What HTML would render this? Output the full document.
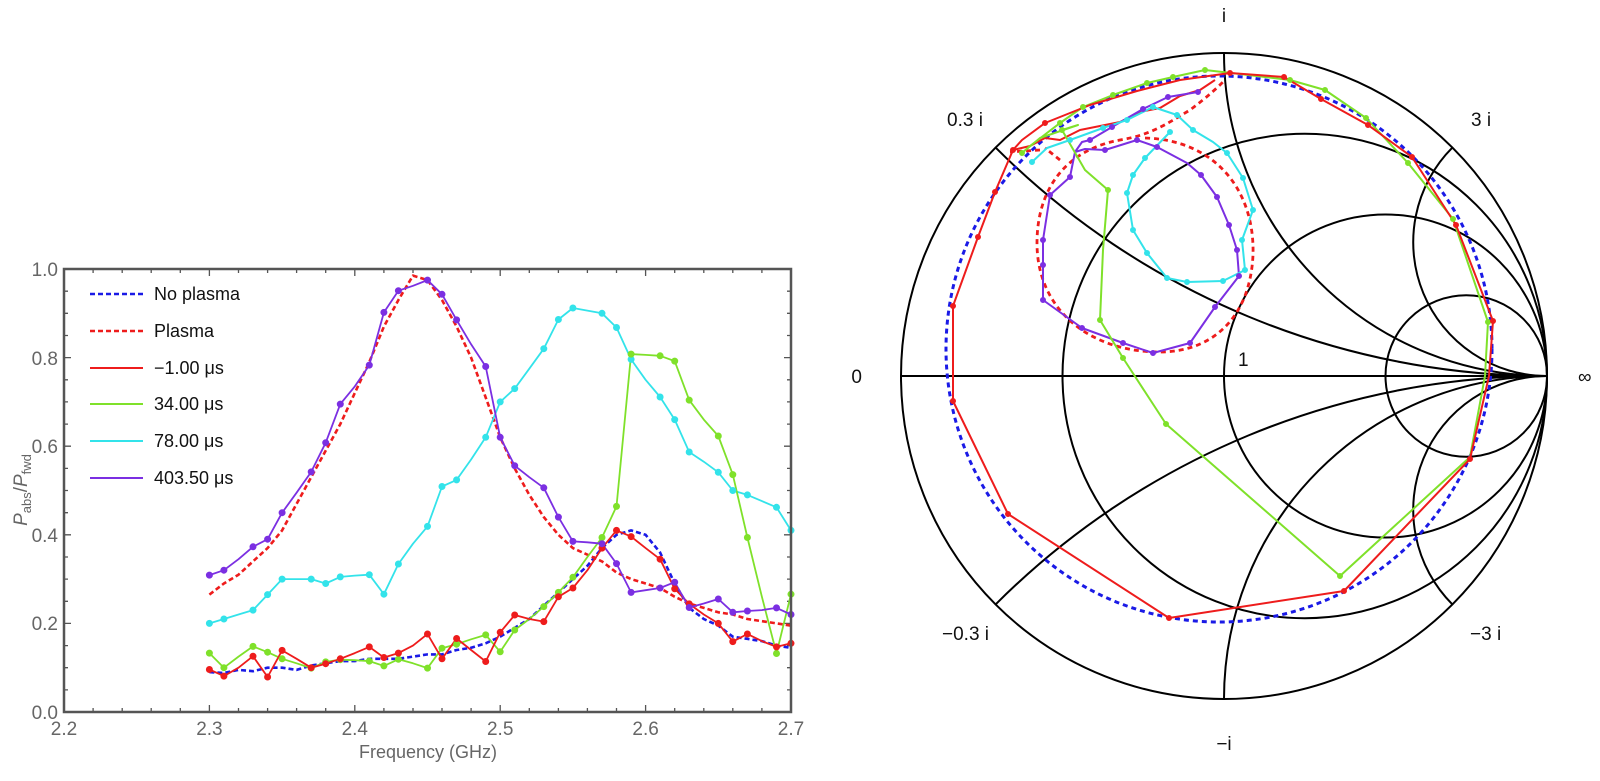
<!DOCTYPE html>
<html><head><meta charset="utf-8"><style>
html,body{margin:0;padding:0;background:#fff;}
svg{display:block;font-family:"Liberation Sans",sans-serif;}
</style></head><body>
<svg width="1600" height="781" viewBox="0 0 1600 781" xmlns="http://www.w3.org/2000/svg">
<rect width="1600" height="781" fill="#fff"/>
<!-- LEFT PLOT -->
<g stroke="#555" stroke-width="1.3" fill="none">
<path d="M64 712V705M93.1 712V708M122.2 712V708M151.2 712V708M180.3 712V708M209.4 712V705M238.5 712V708M267.6 712V708M296.6 712V708M325.7 712V708M354.8 712V705M383.9 712V708M413 712V708M442 712V708M471.1 712V708M500.2 712V705M529.3 712V708M558.4 712V708M587.4 712V708M616.5 712V708M645.6 712V705M674.7 712V708M703.8 712V708M732.8 712V708M761.9 712V708M791 712V705"/>
<path d="M64 269V276M93.1 269V273M122.2 269V273M151.2 269V273M180.3 269V273M209.4 269V276M238.5 269V273M267.6 269V273M296.6 269V273M325.7 269V273M354.8 269V276M383.9 269V273M413 269V273M442 269V273M471.1 269V273M500.2 269V276M529.3 269V273M558.4 269V273M587.4 269V273M616.5 269V273M645.6 269V276M674.7 269V273M703.8 269V273M732.8 269V273M761.9 269V273M791 269V276"/>
<path d="M64 712H71M64 689.9H68M64 667.7H68M64 645.6H68M64 623.4H71M64 601.3H68M64 579.1H68M64 557H68M64 534.8H71M64 512.7H68M64 490.5H68M64 468.4H68M64 446.2H71M64 424.1H68M64 401.9H68M64 379.8H68M64 357.6H71M64 335.5H68M64 313.3H68M64 291.2H68"/>
<path d="M791 712H784M791 689.9H787M791 667.7H787M791 645.6H787M791 623.4H784M791 601.3H787M791 579.1H787M791 557H787M791 534.8H784M791 512.7H787M791 490.5H787M791 468.4H787M791 446.2H784M791 424.1H787M791 401.9H787M791 379.8H787M791 357.6H784M791 335.5H787M791 313.3H787M791 291.2H787"/>
</g>
<g fill="#666" font-size="19">
<g text-anchor="end">
<text x="58" y="719">0.0</text><text x="58" y="630">0.2</text><text x="58" y="542">0.4</text><text x="58" y="453">0.6</text><text x="58" y="365">0.8</text><text x="58" y="276">1.0</text>
</g>
<g text-anchor="middle">
<text x="64" y="735">2.2</text><text x="209.4" y="735">2.3</text><text x="354.8" y="735">2.4</text><text x="500.2" y="735">2.5</text><text x="645.6" y="735">2.6</text><text x="791" y="735">2.7</text>
<text x="428" y="758" font-size="18">Frequency (GHz)</text>
</g>
<text transform="translate(27,490) rotate(-90)" text-anchor="middle" font-size="19" font-style="italic">P<tspan font-size="13" font-style="normal" dy="4">abs</tspan><tspan dy="-4" font-style="normal">/</tspan>P<tspan font-size="13" font-style="normal" dy="4">fwd</tspan></text>
</g>

<!-- data left -->
<g fill="none" stroke-linejoin="round">
<polyline stroke="#1a1ae6" stroke-width="2.6" stroke-dasharray="5 3" points="209.4,672.1 223.9,673 238.5,669.9 253,671.2 267.6,667.7 282.1,667.7 296.6,669.9 311.2,665.5 325.7,663.3 340.3,661.1 354.8,661.1 369.3,658.8 383.9,658.8 398.4,658.8 413,656.6 427.5,654.4 442,654.4 456.6,650 471.1,647.8 485.7,643.3 500.2,636.7 514.7,627.8 529.3,619 543.8,605.7 558.4,592.4 572.9,579.1 587.4,565.8 602,548.1 616.5,534.8 631.1,530.4 645.6,534.8 660.1,552.5 674.7,583.5 689.2,607.9 703.8,619 718.3,625.6 732.8,636.7 747.4,638.9 761.9,641.1 776.5,645.6 791,647.8"/>
<polyline stroke="#ee1c1c" stroke-width="2.6" stroke-dasharray="5 3" points="209.4,594.6 223.9,583.5 238.5,574.7 253,561.4 267.6,548.1 282.1,530.4 296.6,503.8 311.2,477.2 325.7,450.6 340.3,424.1 354.8,393 369.3,362 383.9,326.6 398.4,300 413,275.6 427.5,280.1 442,300 456.6,326.6 471.1,357.6 485.7,397.5 500.2,437.3 514.7,468.4 529.3,494.9 543.8,517.1 558.4,534.8 572.9,548.1 587.4,554.7 602,561.4 616.5,572.5 631.1,579.1 645.6,583.5 660.1,588 674.7,596.8 689.2,603.5 703.8,607.9 718.3,612.3 732.8,614.5 747.4,619 761.9,621.2 776.5,623.4 791,625.6"/>
<polyline stroke="#33e3ea" stroke-width="1.8" points="209.4,623.4 223.9,619 238.5,614.5 253,610.1 267.6,594.6 282.1,579.1 296.6,579.1 311.2,579.1 325.7,583.5 340.3,576.9 354.8,575.6 369.3,574.7 383.9,594.2 398.4,564 413,543.7 427.5,526.4 442,486.5 456.6,479.9 471.1,459.5 485.7,437.3 500.2,401.9 514.7,388.6 529.3,368.7 543.8,348.7 558.4,319.5 572.9,308 587.4,310.6 602,313.3 616.5,327.5 631.1,359.4 645.6,379.8 660.1,397 674.7,419.6 689.2,452 703.8,461.7 718.3,472.3 732.8,490.5 747.4,494.9 761.9,501.1 776.5,507.3 791,530.4"/>
<polyline stroke="#7fe12a" stroke-width="1.8" points="209.4,653.1 223.9,667.7 238.5,656.6 253,646.4 267.6,652.2 282.1,658.8 296.6,663.3 311.2,668.1 325.7,661.9 340.3,659.7 354.8,660.2 369.3,661.1 383.9,665.9 398.4,659.3 413,663.3 427.5,668.1 442,648.2 456.6,644.2 471.1,639.3 485.7,634.9 500.2,651.8 514.7,630 529.3,619 543.8,606.6 558.4,592.4 572.9,577.3 587.4,557 602,537.5 616.5,506.4 631.1,354.1 645.6,354.9 660.1,355.8 674.7,361.1 689.2,400.1 703.8,419.6 718.3,436 732.8,474.6 747.4,537.5 761.9,596.8 776.5,653.5 791,594.2"/>
<polyline stroke="#ee1c1c" stroke-width="1.8" points="209.4,669.5 223.9,676.1 238.5,667.7 253,656.2 267.6,677 282.1,650.4 296.6,658.8 311.2,667.7 325.7,663.7 340.3,658.8 354.8,653.1 369.3,646.9 383.9,657.5 398.4,653.1 413,645.6 427.5,634 442,658.8 456.6,638.5 471.1,650 485.7,661.5 500.2,632.3 514.7,615 529.3,619 543.8,621.6 558.4,596.8 572.9,588 587.4,570.2 602,548.1 616.5,530.4 631.1,536.6 645.6,548.1 660.1,559.2 674.7,588.8 689.2,603.9 703.8,614.5 718.3,623.4 732.8,641.6 747.4,634 761.9,641.1 776.5,646.9 791,643.3"/>
<polyline stroke="#7b2fe2" stroke-width="1.8" points="209.4,575.1 223.9,570.2 238.5,559.2 253,546.8 267.6,539.2 282.1,512.7 296.6,492.7 311.2,471.9 325.7,442.7 340.3,404.1 354.8,386.4 369.3,365.1 383.9,312.4 398.4,290.7 413,285.8 427.5,280.1 442,294.3 456.6,319.9 471.1,344.3 485.7,366.5 500.2,437.3 514.7,465.7 529.3,477.2 543.8,487.8 558.4,517.1 572.9,541.4 587.4,542.3 602,543.7 616.5,563.6 631.1,592.4 645.6,590.2 660.1,588 674.7,582.2 689.2,607.5 703.8,603.5 718.3,599 732.8,612.3 747.4,611 761.9,610.1 776.5,607.9 791,614.5"/>
</g>
<g stroke-width="7" stroke-linecap="round" fill="none">
<path stroke="#33e3ea" d="M209.4 623.4h0M223.9 619h0M253 610.1h0M267.6 594.6h0M282.1 579.1h0M311.2 579.1h0M325.7 583.5h0M340.3 576.9h0M369.3 574.7h0M383.9 594.2h0M398.4 564h0M427.5 526.4h0M442 486.5h0M456.6 479.9h0M485.7 437.3h0M500.2 401.9h0M514.7 388.6h0M543.8 348.7h0M558.4 319.5h0M572.9 308h0M602 313.3h0M616.5 327.5h0M631.1 359.4h0M660.1 397h0M674.7 419.6h0M689.2 452h0M718.3 472.3h0M732.8 490.5h0M747.4 494.9h0M776.5 507.3h0M791 530.4h0"/>
<path stroke="#7fe12a" d="M209.4 653.1h0M223.9 667.7h0M253 646.4h0M267.6 652.2h0M282.1 658.8h0M311.2 668.1h0M325.7 661.9h0M340.3 659.7h0M369.3 661.1h0M383.9 665.9h0M398.4 659.3h0M427.5 668.1h0M442 648.2h0M456.6 644.2h0M485.7 634.9h0M500.2 651.8h0M514.7 630h0M543.8 606.6h0M558.4 592.4h0M572.9 577.3h0M602 537.5h0M616.5 506.4h0M631.1 354.1h0M660.1 355.8h0M674.7 361.1h0M689.2 400.1h0M718.3 436h0M732.8 474.6h0M747.4 537.5h0M776.5 653.5h0M791 594.2h0"/>
<path stroke="#ee1c1c" d="M209.4 669.5h0M223.9 676.1h0M253 656.2h0M267.6 677h0M282.1 650.4h0M311.2 667.7h0M325.7 663.7h0M340.3 658.8h0M369.3 646.9h0M383.9 657.5h0M398.4 653.1h0M427.5 634h0M442 658.8h0M456.6 638.5h0M485.7 661.5h0M500.2 632.3h0M514.7 615h0M543.8 621.6h0M558.4 596.8h0M572.9 588h0M602 548.1h0M616.5 530.4h0M631.1 536.6h0M660.1 559.2h0M674.7 588.8h0M689.2 603.9h0M718.3 623.4h0M732.8 641.6h0M747.4 634h0M776.5 646.9h0M791 643.3h0"/>
<path stroke="#7b2fe2" d="M209.4 575.1h0M223.9 570.2h0M253 546.8h0M267.6 539.2h0M282.1 512.7h0M311.2 471.9h0M325.7 442.7h0M340.3 404.1h0M369.3 365.1h0M383.9 312.4h0M398.4 290.7h0M427.5 280.1h0M442 294.3h0M456.6 319.9h0M485.7 366.5h0M500.2 437.3h0M514.7 465.7h0M543.8 487.8h0M558.4 517.1h0M572.9 541.4h0M602 543.7h0M616.5 563.6h0M631.1 592.4h0M660.1 588h0M674.7 582.2h0M689.2 607.5h0M718.3 599h0M732.8 612.3h0M747.4 611h0M776.5 607.9h0M791 614.5h0"/>
</g>
<rect x="64" y="269" width="727" height="443" fill="none" stroke="#555" stroke-width="2.5"/>
<!-- legend -->
<g fill="none" stroke-width="2">
<line x1="90" y1="294" x2="143" y2="294" stroke="#1a1ae6" stroke-width="2.4" stroke-dasharray="5 3"/>
<line x1="90" y1="331" x2="143" y2="331" stroke="#ee1c1c" stroke-width="2.4" stroke-dasharray="5 3"/>
<line x1="90" y1="368" x2="143" y2="368" stroke="#ee1c1c"/>
<line x1="90" y1="404" x2="143" y2="404" stroke="#7fe12a"/>
<line x1="90" y1="441" x2="143" y2="441" stroke="#33e3ea"/>
<line x1="90" y1="478" x2="143" y2="478" stroke="#7b2fe2"/>
</g>
<g font-size="18" fill="#111">
<text x="154" y="300">No plasma</text><text x="154" y="337">Plasma</text><text x="154" y="374">−1.00 μs</text><text x="154" y="410">34.00 μs</text><text x="154" y="447">78.00 μs</text><text x="154" y="484">403.50 μs</text>
</g>

<!-- SMITH CHART -->
<g fill="none" stroke="#000" stroke-width="2">
<circle cx="1224" cy="376" r="323"/>
<line x1="901" y1="376" x2="1547" y2="376"/>
<circle cx="1304.75" cy="376" r="242.25"/>
<circle cx="1385.5" cy="376" r="161.5"/>
<circle cx="1466.25" cy="376" r="80.75"/>
<path d="M1547 376A780 780 0 0 1 995.6 147.6"/>
<path d="M1547 376A780 780 0 0 0 995.6 604.4"/>
<path d="M1547 376A323 323 0 0 1 1224 53"/>
<path d="M1547 376A323 323 0 0 0 1224 699"/>
<path d="M1547 376A133.8 133.8 0 0 1 1452.4 147.6"/>
<path d="M1547 376A133.8 133.8 0 0 0 1452.4 604.4"/>
</g>
<g font-size="19" fill="#111">
<text x="1224" y="22" text-anchor="middle">i</text>
<text x="947" y="126">0.3 i</text>
<text x="1471" y="126">3 i</text>
<text x="862" y="383" text-anchor="end">0</text>
<text x="1578" y="383">∞</text>
<text x="1238" y="366">1</text>
<text x="942" y="640">−0.3 i</text>
<text x="1470" y="640">−3 i</text>
<text x="1224" y="750" text-anchor="middle">−i</text>
</g>
<g fill="none" stroke-linejoin="round">
<circle cx="1219" cy="349" r="273" stroke="#1a1ae6" stroke-width="3" stroke-dasharray="5 4"/>
<path stroke="#ee1c1c" stroke-width="2.8" stroke-dasharray="5 4" d="M1145 138C1215 140 1255 190 1253 255C1250 320 1210 352 1160 352C1090 352 1037 310 1037 243C1037 190 1065 150 1120 140C1150 135 1165 125 1190 110C1210 95 1220 85 1225 80M1040 150L1010 152M1060 160L1045 148"/>
<polyline stroke="#ee1c1c" stroke-width="2" points="1013,150 1030,146 1045,138 1060,140 1080,130 1100,126 1120,122 1140,112 1160,108 1180,96 1200,90 1215,80"/>
<polyline stroke="#7b2fe2" stroke-width="2" points="1198,92 1168,97 1143,109 1112,127 1090,140 1082,142 1075,152 1070,177 1050,195 1043,240 1043,265 1043,300 1082,328 1123,343 1153,353 1190,343 1215,307 1239,276 1237,250 1229,225 1217,197 1201,175 1187,163 1157,147 1137,140 1105,150 1085,149 1075,152"/>
<polyline stroke="#33e3ea" stroke-width="2" points="1170,132 1145,158 1133,175 1127,193 1133,230 1147,253 1167,278 1187,282 1223,281 1245,270 1242,240 1253,210 1243,178 1227,153 1213,142 1193,130 1177,115 1153,107 1127,120 1103,128 1070,140 1047,148 1032,162"/>
<polyline stroke="#7fe12a" stroke-width="2" points="1062,130 1078,125 1040,138 1022,153 1030,146 1060,123 1083,107 1113,95 1147,83 1173,77 1205,70 1240,74 1290,80 1325,90 1366,118 1408,163 1453,219 1488,322 1485,376 1470,457 1340,576 1166,424 1123,358 1100,320 1103,250 1108,190 1085,170 1062,130"/>
<polyline stroke="#ee1c1c" stroke-width="2" points="1230,73 1284,77 1321,99 1368,125 1412,157 1456,225 1493,321 1489,376 1470,459 1344,591 1169,618 1008,514 953,401 953,306 978,237 995,192 1013,150 1022,140 1045,123 1090,105 1137,91 1180,80 1230,73"/>
</g>
<g stroke-width="6" stroke-linecap="round" fill="none">
<path stroke="#7b2fe2" d="M1198 92h0M1168 97h0M1143 109h0M1112 127h0M1090 140h0M1070 177h0M1050 195h0M1043 240h0M1043 265h0M1043 300h0M1082 328h0M1123 343h0M1153 353h0M1190 343h0M1215 307h0M1239 276h0M1237 250h0M1229 225h0M1217 197h0M1201 175h0M1157 147h0M1137 140h0M1105 150h0"/>
<path stroke="#33e3ea" d="M1170 132h0M1145 158h0M1133 175h0M1127 193h0M1133 230h0M1147 253h0M1167 278h0M1187 282h0M1223 281h0M1245 270h0M1242 240h0M1253 210h0M1243 178h0M1227 153h0M1193 130h0M1177 115h0M1153 107h0M1127 120h0M1103 128h0M1070 140h0M1032 162h0"/>
<path stroke="#7fe12a" d="M1062 130h0M1022 153h0M1060 123h0M1083 107h0M1113 95h0M1147 83h0M1173 77h0M1205 70h0M1290 80h0M1325 90h0M1366 118h0M1408 163h0M1453 219h0M1488 322h0M1340 576h0M1166 424h0M1123 358h0M1100 320h0M1108 190h0"/>
<path stroke="#ee1c1c" d="M1230 73h0M1284 77h0M1321 99h0M1368 125h0M1412 157h0M1456 225h0M1493 321h0M1470 459h0M1344 591h0M1169 618h0M1008 514h0M953 401h0M953 306h0M978 237h0M995 192h0M1013 150h0M1045 123h0"/>
</g>
</svg>
</body></html>
